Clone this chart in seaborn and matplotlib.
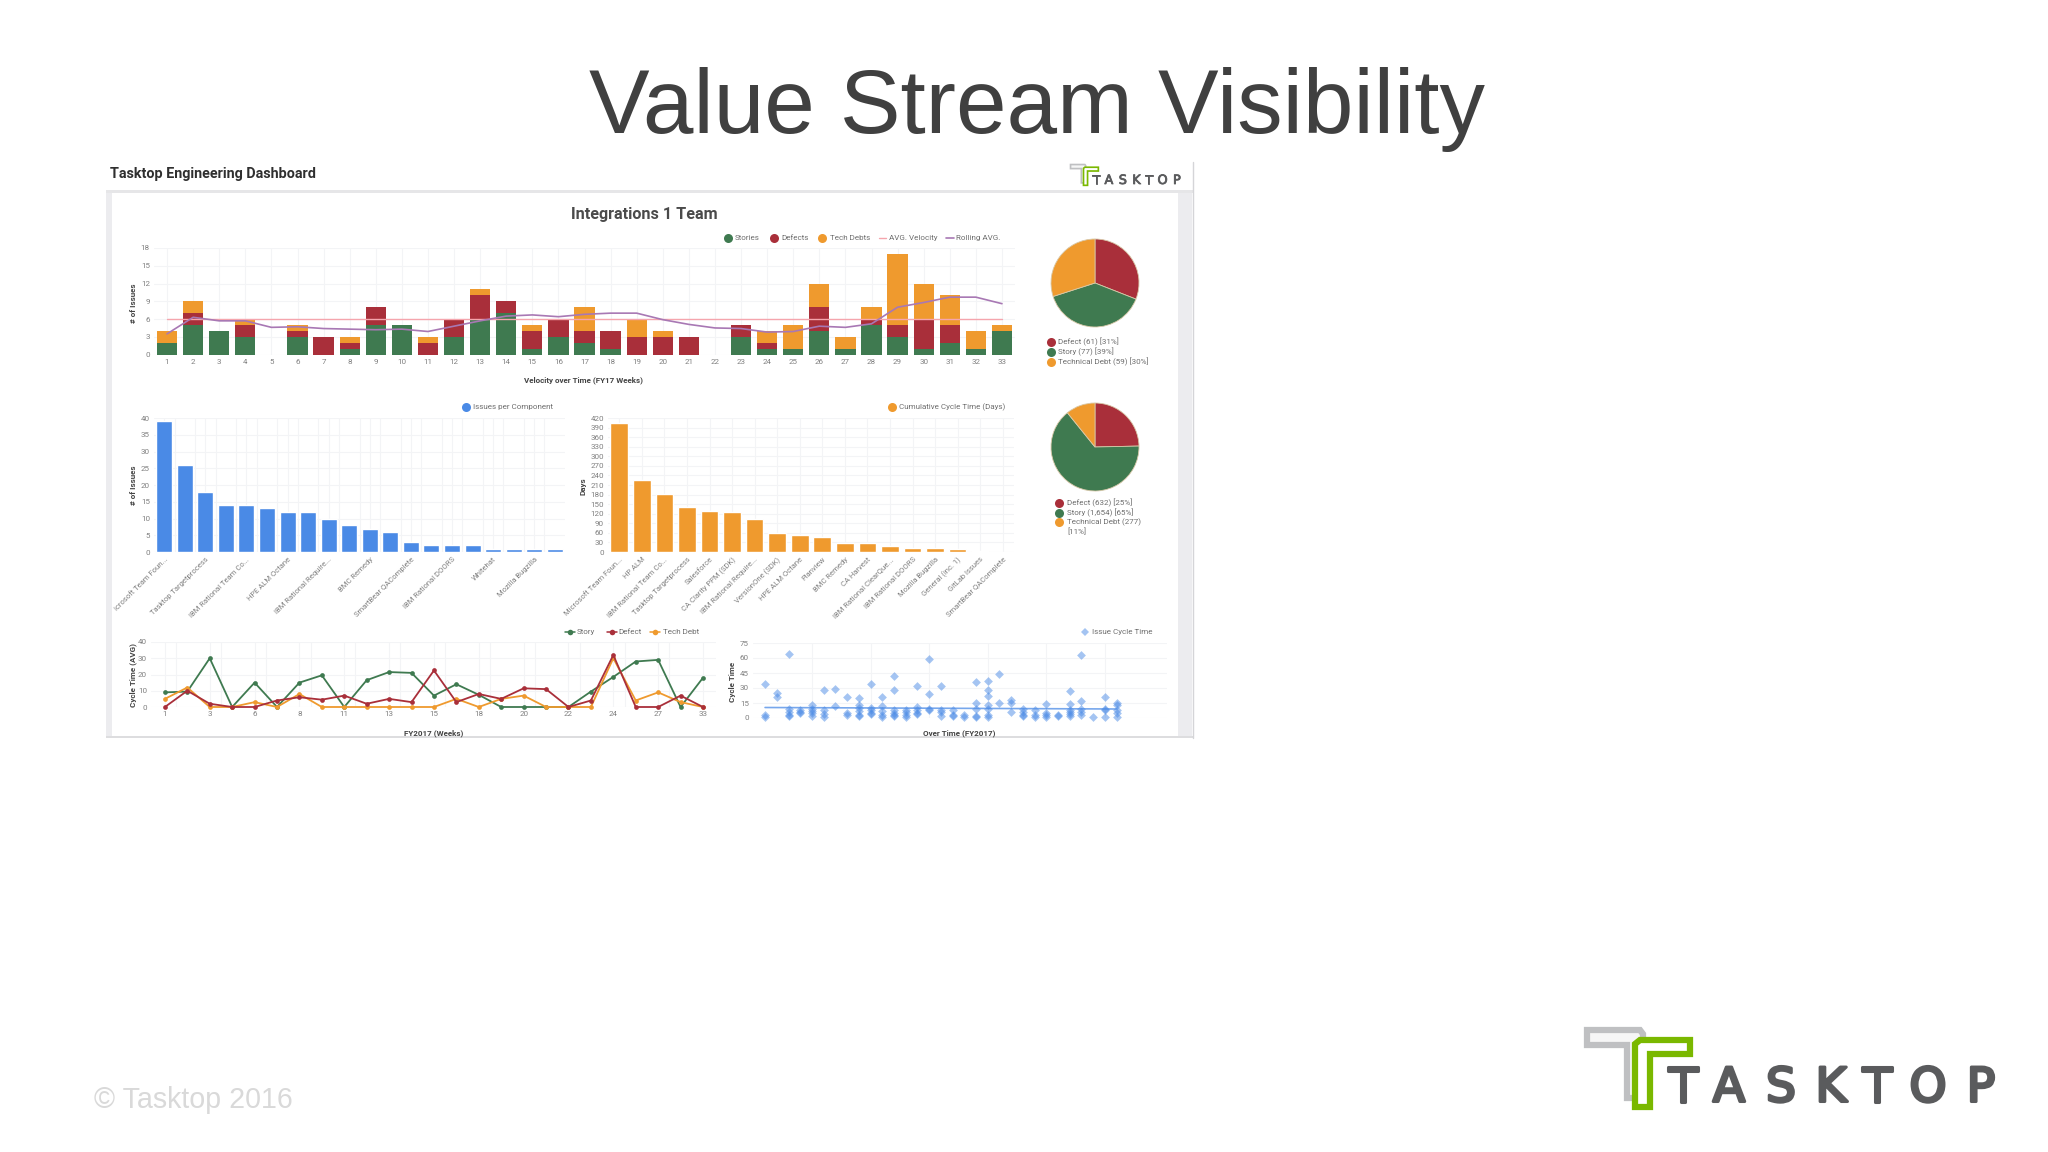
# plot.py - Value Stream Visibility slide with the Tasktop dashboard
import matplotlib
matplotlib.use("Agg")
import matplotlib.pyplot as plt
import matplotlib.patheffects as pe
from matplotlib.patches import Rectangle, Polygon
import numpy as np
import pandas as pd
import seaborn as sns

# --- Data ---
WEEKS = list(range(1, 34))
STORIES = [2, 5, 4, 3, 0, 3, 0, 1, 5, 5, 0, 3, 6, 7, 1, 3, 2, 1, 0, 0, 0, 0, 3, 1, 1, 4, 1, 5, 3, 1, 2, 1, 4]
DEFECTS = [0, 2, 0, 2, 0, 1, 3, 1, 3, 0, 2, 3, 4, 2, 3, 3, 2, 3, 3, 3, 3, 0, 2, 1, 0, 4, 0, 1, 2, 5, 3, 0, 0]
TECH_DEBTS = [2, 2, 0, 1, 0, 1, 0, 1, 0, 0, 1, 0, 1, 0, 1, 0, 4, 0, 3, 1, 0, 0, 0, 2, 4, 4, 2, 2, 12, 6, 5, 3, 1]
AVG_VELOCITY = [6] * 33
ROLLING_AVG = [3.5, 6.3, 5.7, 5.7, 4.6, 4.7, 4.4, 4.3, 4.2, 4.3, 3.9, 4.8, 5.7, 6.5, 6.7, 6.4, 6.8,
               7.0, 7.0, 5.9, 5.1, 4.5, 4.4, 3.8, 3.9, 4.8, 4.6, 5.2, 8.0, 8.8, 9.7, 9.7, 8.6]

PIE_VALUES_1 = [61, 77, 59]
PIE_LABELS_1 = ["Defect (61) [31%]", "Story (77) [39%]", "Technical Debt (59) [30%]"]
PIE_VALUES_2 = [632, 1654, 277]
PIE_LABELS_2 = ["Defect (632) [25%]", "Story (1,654) [65%]", "Technical Debt (277)", "[11%]"]

COMPONENTS = ["icrosoft Team Foun...", "HP ALM", "Tasktop Targetprocess", "Salesforce", "IBM Rational Team Co...",
              "CA Clarity", "HPE ALM Octane", "Planview", "IBM Rational Require...", "CA Harvest", "BMC Remedy",
              "VersionOne", "SmartBear QAComplete", "GitLab", "IBM Rational DOORS", "General", "Whitehat",
              "Jira", "Mozilla Bugzilla", "Rally"]
ISSUES = [39, 26, 18, 14, 14, 13, 12, 12, 10, 8, 7, 6, 3, 2, 2, 2, 1, 1, 1, 1]

CYCLE_COMPONENTS = ["Microsoft Team Foun...", "HP ALM", "IBM Rational Team Co...", "Tasktop Targetprocess",
                    "Salesforce", "CA Clarity PPM (SDK)", "IBM Rational Require...", "VersionOne (SDK)",
                    "HPE ALM Octane", "Planview", "BMC Remedy", "CA Harvest", "IBM Rational ClearQue...",
                    "IBM Rational DOORS", "Mozilla Bugzilla", "General (inc. 1)", "GitLab Issues",
                    "SmartBear QAComplete"]
CYCLE_DAYS = [405, 225, 183, 140, 130, 125, 103, 60, 52, 48, 28, 27, 19, 13, 13, 8, 2, 1]

LINE_WEEK_LABELS = ["1", "3", "6", "8", "11", "13", "15", "18", "20", "22", "24", "27", "33"]
STORY_CYCLE = [9, 9.5, 30, 0, 15, 0, 15, 19.5, 0, 16.5, 21.5, 21, 7, 14, 7.5, 0, 0, 0, 0, 9.5, 18.5, 28, 29, 0, 18]
DEFECT_CYCLE = [0, 10, 2, 0, 0, 4, 6, 4.5, 7, 2, 5, 3, 22.5, 3, 8, 5, 11.5, 11, 0, 4, 32, 0, 0, 7, 0]
TECH_CYCLE = [5, 12, 0, 0, 3, 0, 8, 0, 0, 0, 0, 0, 0, 5, 0, 5, 7, 0, 0, 0, 30, 4, 9, 3, 0]

ISSUE_CYCLE_TIMES = [
    [34, 3, 1], [25, 21], [64, 9, 6, 3, 2], [8, 6, 5], [13, 9, 7, 5, 2], [28, 8, 4, 1], [29, 12],
    [21, 5, 3], [20, 13, 10, 7, 3, 2], [34, 10, 8, 5, 4], [21, 12, 7, 3, 1], [42, 28, 8, 5, 3, 2],
    [8, 6, 3, 1], [32, 11, 8, 5, 4], [59, 24, 9, 8], [32, 8, 6, 2], [8, 3, 2], [3, 1],
    [36, 15, 9, 2, 1], [37, 28, 22, 13, 9, 3, 1], [44, 15], [18, 15, 6], [9, 6, 3, 2], [8, 3, 1],
    [14, 5, 3, 1], [3, 2], [27, 14, 8, 6, 4, 2], [63, 17, 9, 6, 3], [1], [21, 9, 8, 1], [15, 13, 8, 5, 1],
]
TREND_X = [0, 30]
TREND_Y = [10.5, 9]

# --- Style ---
GREEN = "#3f7a50"
RED = "#a92f3a"
ORANGE = "#ef9a2e"
BLUE = "#4a8ae6"
PINK = "#f5a5ad"
PURPLE = "#a878b4"
GRID = "#f3f4f6"
TICK = "#808080"
DARK = "#444444"
SMALL = 5.8

sns.set_theme(style="white")
plt.rcParams["font.family"] = ["Roboto", "DejaVu Sans"]

W, H = 2048, 1152
fig = plt.figure(figsize=(W / 100, H / 100), dpi=100, facecolor="white")

# full-figure axes in pixel coords for slide furniture
bg = fig.add_axes([0, 0, 1, 1], zorder=0)
bg.set_xlim(0, W)
bg.set_ylim(H, 0)
bg.axis("off")


def px_axes(left, top, right, bottom):
    ax = fig.add_axes([left / W, 1 - bottom / H, (right - left) / W, (bottom - top) / H], zorder=2)
    ax.patch.set_alpha(0)
    return ax


def label(x, y, text, color=DARK, size=SMALL, weight="normal", rotation=0, ha="center"):
    bg.text(x, y, text, color=color, fontsize=size, fontweight=weight, rotation=rotation,
            ha=ha, va="center")


def legend_dot(x, y, color, text, text_x, marker="o", size=6.5, alpha=1.0):
    bg.plot([x], [y], marker=marker, color=color, markersize=size, mew=0, alpha=alpha)
    label(text_x, y, text, color="#6e6e6e", ha="left")


def style_axes(ax, yticks, grid_x=False):
    sns.despine(ax=ax, left=True, bottom=True)
    ax.set_xlabel("")
    ax.set_ylabel("")
    ax.set_yticks(yticks)
    ax.tick_params(axis="both", labelsize=SMALL, labelcolor=TICK, length=0, pad=3)
    ax.grid(True, axis="y", color=GRID, linewidth=0.8)
    ax.grid(grid_x, axis="x", color=GRID, linewidth=0.8)
    ax.set_axisbelow(True)


def draw_logo(x0, y0, scale, font_size):
    # mark and wordmark, geometry taken from the large logo at bottom right
    def pts(coords):
        return [(x0 + (x - 1585) * scale, y0 + (y - 1028) * scale) for x, y in coords]

    grey = [(1587, 1030), (1640, 1030), (1643, 1034), (1643, 1098), (1627, 1098), (1627, 1045), (1587, 1045)]
    green = [(1635, 1107), (1635, 1044), (1640, 1040), (1690, 1040), (1690, 1054), (1650, 1054), (1650, 1107)]
    bg.add_patch(Polygon(pts(grey), closed=True, fc="#f6f6f6", ec="#bfc0c2", lw=4.5 * scale))
    bg.add_patch(Polygon(pts(green), closed=True, fc="white", ec="#7ab800", lw=4.5 * scale))
    letter_x = [1683, 1729, 1781, 1831, 1877, 1928, 1981]
    for ch, lx in zip("TASKTOP", letter_x):
        px, py = pts([(lx, 1089)])[0]
        t = bg.text(px, py, ch, color="#5a5b5d", fontsize=font_size, ha="center", va="center", family="DejaVu Sans")
        t.set_path_effects([pe.withStroke(linewidth=2.2 * scale, foreground="#5a5b5d")])


# --- Slide furniture ---
bg.text(1037, 110, "Value Stream Visibility", color="#404040", fontsize=65.4, ha="center", va="center",
        family="Liberation Sans")
bg.text(94, 1100, "\u00a9 Tasktop 2016", color="#d9d9d9", fontsize=20.6, ha="left", va="center",
        family="Liberation Sans")
draw_logo(1585, 1028, 1.0, 34)

# dashboard frame
bg.add_patch(Rectangle((106, 190), 1087, 548, fc="white", ec="none"))
bg.add_patch(Rectangle((106, 190), 6, 548, fc="#ececef", ec="none"))
bg.add_patch(Rectangle((1178, 190), 14, 548, fc="#ececef", ec="none"))
bg.add_patch(Rectangle((106, 190), 1087, 3, fc="#e6e6e8", ec="none"))
bg.add_patch(Rectangle((106, 736), 1087, 2, fc="#dddddf", ec="none"))
bg.plot([1192.5, 1192.5], [162, 738], color="#d5d5d8", lw=1)
label(110, 174, "Tasktop Engineering Dashboard", color="#2f2f2f", size=10.4, weight="bold", ha="left")
draw_logo(1070, 164, 0.27, 9.2)
label(644, 215, "Integrations 1 Team", color="#4a4a4a", size=11.6, weight="bold")

# --- Velocity stacked bars ---
velocity = pd.DataFrame({"week": WEEKS * 3,
                         "kind": ["Story"] * 33 + ["Defect"] * 33 + ["Tech"] * 33,
                         "count": STORIES + DEFECTS + TECH_DEBTS})
ax = px_axes(154, 248, 1015, 354.6)
sns.histplot(data=velocity, x="week", weights="count", hue="kind", multiple="stack", discrete=True, shrink=0.78,
             hue_order=["Tech", "Defect", "Story"], palette={"Story": GREEN, "Defect": RED, "Tech": ORANGE},
             alpha=1, linewidth=0, legend=False, ax=ax)
sns.lineplot(x=WEEKS, y=AVG_VELOCITY, color=PINK, linewidth=1, ax=ax)
sns.lineplot(x=WEEKS, y=ROLLING_AVG, color=PURPLE, linewidth=1.2, ax=ax)
style_axes(ax, range(0, 19, 3))
ax.set_xticks(WEEKS)
ax.set_xlim(0.5, 33.5)
ax.set_ylim(0, 18)
label(133, 303, "# of Issues", weight="bold", rotation=90)
label(584, 380, "Velocity over Time (FY17 Weeks)", weight="bold")
legend_dot(728, 238, GREEN, "Stories", 735)
legend_dot(774, 238, RED, "Defects", 781)
legend_dot(822, 238, ORANGE, "Tech Debts", 830)
bg.plot([879, 886], [238, 238], color=PINK, lw=1)
label(889, 238, "AVG. Velocity", color="#6e6e6e", ha="left")
bg.plot([946, 954], [238, 238], color=PURPLE, lw=1.2)
label(956, 238, "Rolling AVG.", color="#6e6e6e", ha="left")


# --- Pies ---
def draw_pie(values, cx, cy, radius):
    ax = px_axes(cx - radius, cy - radius, cx + radius, cy + radius)
    ax.pie(values, colors=[RED, GREEN, ORANGE], startangle=90, counterclock=False, radius=1,
           wedgeprops={"edgecolor": "#d8c8a8", "linewidth": 0.6})
    ax.set_xlim(-1, 1)
    ax.set_ylim(-1, 1)


draw_pie(PIE_VALUES_1, 1095, 283, 44)
draw_pie(PIE_VALUES_2, 1095, 447, 44)
for text, color, y in zip(PIE_LABELS_1, [RED, GREEN, ORANGE], [342, 352, 362]):
    legend_dot(1051, y, color, text, 1058)
for text, color, y in zip(PIE_LABELS_2[:3], [RED, GREEN, ORANGE], [503, 513, 522]):
    legend_dot(1059, y, color, text, 1067)
label(1067, 531, PIE_LABELS_2[3], color="#6e6e6e", ha="left")

# --- Issues per component ---
ax = px_axes(154, 418, 565, 552)
sns.barplot(x=COMPONENTS, y=ISSUES, color=BLUE, saturation=1, width=0.78, ax=ax)
style_axes(ax, range(0, 41, 5))
ax.set_xlim(-0.5, 19.5)
ax.set_ylim(0, 40)
ax.set_xticks(np.arange(0.5, 19, 1), minor=True)
ax.grid(True, axis="x", which="minor", color=GRID, linewidth=0.8)
ax.tick_params(axis="x", which="minor", length=0)
ax.set_xticks(range(0, 20, 2))
ax.set_xticklabels(COMPONENTS[::2], rotation=45, ha="right", rotation_mode="anchor", color=TICK, fontsize=5.5)
label(133, 485, "# of Issues", weight="bold", rotation=90)
legend_dot(466, 407, BLUE, "Issues per Component", 473)

# --- Cumulative cycle time ---
ax = px_axes(608, 418, 1014, 552)
sns.barplot(x=CYCLE_COMPONENTS, y=CYCLE_DAYS, color=ORANGE, saturation=1, width=0.78, ax=ax)
style_axes(ax, range(0, 421, 30))
ax.set_xlim(-0.5, 17.5)
ax.set_ylim(0, 420)
ax.set_xticks(range(18))
ax.set_xticklabels(CYCLE_COMPONENTS, rotation=45, ha="right", rotation_mode="anchor", color=TICK, fontsize=5.5)
label(583, 486, "Days", weight="bold", rotation=90)
legend_dot(892, 407, ORANGE, "Cumulative Cycle Time (Days)", 899)

# --- Cycle time per week ---
ax = px_axes(151, 642, 716, 707)
line_x = list(range(len(STORY_CYCLE)))
for values, color in [(STORY_CYCLE, GREEN), (TECH_CYCLE, ORANGE), (DEFECT_CYCLE, RED)]:
    sns.lineplot(x=line_x, y=values, color=color, marker="o", markersize=3.4, markeredgewidth=0, linewidth=1.3, ax=ax)
style_axes(ax, range(0, 41, 10))
ax.set_xticks(range(0, 25, 2))
ax.set_xticklabels(LINE_WEEK_LABELS)
ax.set_xticks(np.arange(0.5, 24, 2), minor=True)
ax.grid(True, axis="x", which="minor", color=GRID, linewidth=0.8)
ax.tick_params(axis="x", which="minor", length=0)
ax.set_xlim(-0.62, 24.58)
ax.set_ylim(0, 40)
for line in ax.lines:
    line.set_clip_on(False)
label(133, 675, "Cycle Time (AVG)", weight="bold", rotation=90)
label(434, 733, "FY2017 (Weeks)", weight="bold")
for x, tx, color, text in [(570, 577, GREEN, "Story"), (612, 618, RED, "Defect"), (655, 663, ORANGE, "Tech Debt")]:
    bg.plot([x - 5, x + 5], [632, 632], color=color, lw=1.1)
    legend_dot(x, 632, color, text, tx, size=4)

# --- Issue cycle time scatter ---
scatter = pd.DataFrame([(i, v) for i, column in enumerate(ISSUE_CYCLE_TIMES) for v in column], columns=["pos", "days"])
ax = px_axes(753, 643, 1167, 718)
sns.scatterplot(data=scatter, x="pos", y="days", marker="D", s=20, color=BLUE, alpha=0.5, linewidth=0, ax=ax)
sns.lineplot(x=TREND_X, y=TREND_Y, color=BLUE, alpha=0.75, linewidth=1.2, ax=ax)
style_axes(ax, range(0, 76, 15), grid_x=True)
ax.set_xticks(range(4, 30, 5))
ax.set_xticklabels([])
ax.set_xlim(-1.03, 34.3)
ax.set_ylim(0, 75)
for artist in ax.collections:
    artist.set_clip_on(False)
label(733, 682, "Cycle Time", weight="bold", rotation=90)
label(959, 733, "Over Time (FY2017)", weight="bold")
legend_dot(1085, 632, BLUE, "Issue Cycle Time", 1092, marker="D", size=4.2, alpha=0.5)

fig.savefig("out.png", dpi=100)
